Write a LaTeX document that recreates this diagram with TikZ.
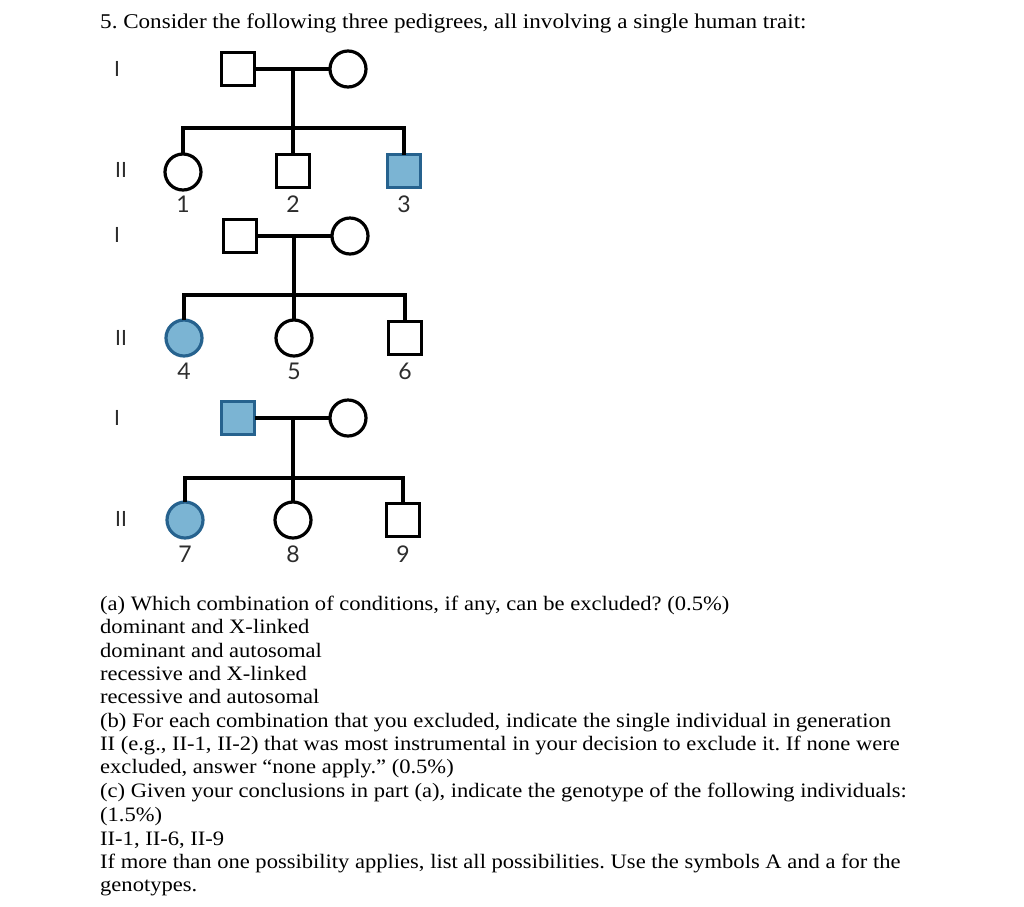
\documentclass[tikz,border=0pt]{standalone}
\usepackage{fontspec}
\setmainfont[FakeStretch=1.1]{Liberation Serif}
\newfontfamily\pedfont{Lato}
\usepackage{xcolor}
\usetikzlibrary{positioning,calc}
\frenchspacing

\definecolor{affectedfill}{RGB}{123,180,211}
\definecolor{affecteddraw}{RGB}{38,98,142}
\definecolor{labelgray}{RGB}{45,45,45}

\begin{document}
\begin{tikzpicture}[
    x=1pt, y=-1pt,
    male/.style={draw, line width=3.2pt, rectangle, minimum size=33pt, inner sep=0pt, outer sep=0pt, fill=white},
    female/.style={draw, line width=3.2pt, circle, minimum size=36pt, inner sep=0pt, outer sep=0pt, fill=white},
    affected/.style={fill=affectedfill, draw=affecteddraw},
    line/.style={line width=3.2pt},
    gen/.style={font=\pedfont\fontsize{21}{21}\selectfont, text=labelgray},
    idnum/.style={font=\pedfont\fontsize{23}{23}\selectfont, text=labelgray},
    body/.style={anchor=base west, inner sep=0pt, font=\fontsize{20.5}{24}\selectfont}
]
\useasboundingbox (0,0) rectangle (1024,906);

% Question
\node[body, font=\fontsize{21}{24}\selectfont] (title) at (100,28) {5. Consider the following three pedigrees, all involving a single human trait:};

% Pedigree 1
\node[gen] (g1a) at (117,69) {I};
\node[gen] (g1b) at (121,170) {II};
\node[male] (p1) at (238,69) {};
\node[female] (m1) at (348,69) {};
\coordinate (d1) at (293,69);
\coordinate (s1) at (293,128);
\node[female] (c1) at (183,172) {};
\node[male] (c2) at (293,171) {};
\node[male, affected] (c3) at (404,171) {};
\node[idnum] (n1) at (183,204) {1};
\node[idnum] (n2) at (293,204) {2};
\node[idnum] (n3) at (404,204) {3};
\draw[line] (p1) -- (m1);
\draw[line] (d1) -- (s1);
\draw[line] (c1.north) |- (s1) -| (c3.north);
\draw[line] (s1) -- (c2.north);

% Pedigree 2
\node[gen] (g2a) at (117,235) {I};
\node[gen] (g2b) at (121,338) {II};
\node[male] (p2) at (240,236) {};
\node[female] (m2) at (350,236) {};
\coordinate (d2) at (294,236);
\coordinate (s2) at (294,295);
\node[female, affected] (c4) at (184,338) {};
\node[female] (c5) at (294,338) {};
\node[male] (c6) at (405,338) {};
\node[idnum] (n4) at (184,371) {4};
\node[idnum] (n5) at (294,371) {5};
\node[idnum] (n6) at (405,371) {6};
\draw[line] (p2) -- (m2);
\draw[line] (d2) -- (s2);
\draw[line] (c4.north) |- (s2) -| (c6.north);
\draw[line] (s2) -- (c5.north);

% Pedigree 3
\node[gen] (g3a) at (117,418) {I};
\node[gen] (g3b) at (121,519) {II};
\node[male, affected] (p3) at (238,418) {};
\node[female] (m3) at (348,418) {};
\coordinate (d3) at (293,418);
\coordinate (s3) at (293,478);
\node[female, affected] (c7) at (185,520) {};
\node[female] (c8) at (293,520) {};
\node[male] (c9) at (403,520) {};
\node[idnum] (n7) at (185,554) {7};
\node[idnum] (n8) at (293,554) {8};
\node[idnum] (n9) at (403,554) {9};
\draw[line] (p3) -- (m3);
\draw[line] (d3) -- (s3);
\draw[line] (c7.north) |- (s3) -| (c9.north);
\draw[line] (s3) -- (c8.north);

% Parts (a)-(c)
\node[body] (qa) at (100,610) {(a) Which combination of conditions, if any, can be excluded? (0.5\%)};
\node[body] (oa1) at (100,633) {dominant and X-linked};
\node[body] (oa2) at (100,657) {dominant and autosomal};
\node[body] (oa3) at (100,680) {recessive and X-linked};
\node[body] (oa4) at (100,703) {recessive and autosomal};
\node[body] (qb1) at (100,727) {(b) For each combination that you excluded, indicate the single individual in generation};
\node[body] (qb2) at (100,750) {II (e.g., II-1, II-2) that was most instrumental in your decision to exclude it. If none were};
\node[body] (qb3) at (100,773) {excluded, answer ``none apply.'' (0.5\%)};
\node[body] (qc1) at (100,797) {(c) Given your conclusions in part (a), indicate the genotype of the following individuals:};
\node[body] (qc2) at (100,821) {(1.5\%)};
\node[body] (qc3) at (100,845) {II-1, II-6, II-9};
\node[body] (qc4) at (100,868) {If more than one possibility applies, list all possibilities. Use the symbols A and a for the};
\node[body] (qc5) at (100,891) {genotypes.};

\end{tikzpicture}
\end{document}
